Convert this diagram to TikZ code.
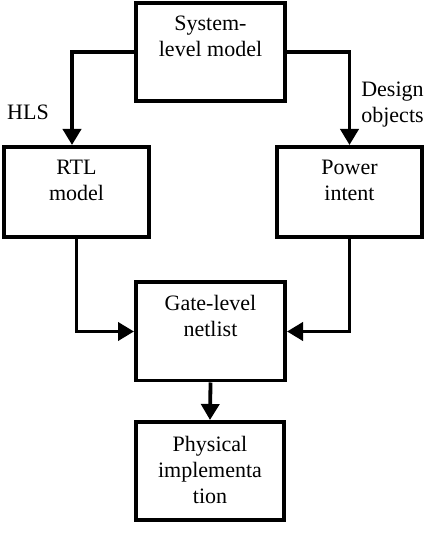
\documentclass[tikz,border=0pt]{standalone}
\usepackage{fontspec}
\setmainfont{Liberation Serif}
\newfontfamily\timesfont{Liberation Serif}
\usepackage{tikz}
\usetikzlibrary{positioning,arrows.meta}

\begin{document}
\begin{tikzpicture}[x=1pt, y=1pt,
    block/.style={rectangle, draw=black, line width=3.8pt, inner sep=0pt, minimum width=149.2pt, minimum height=98.2pt},
    smallblock/.style={block, minimum width=145.2pt, minimum height=90.2pt},
    txt/.style={align=center, inner sep=0pt, anchor=north, font=\timesfont\fontsize{22}{26}\selectfont},
    arr/.style={-{Triangle[length=16pt,width=18pt]}, line width=3.8pt}]

    \useasboundingbox (0,0) rectangle (442,556);

    % Define boxes
    \node[block] (Sys) at (210.5,504) {};
    \node[smallblock] (RTL) at (76.5,364) {};
    \node[smallblock] (Power) at (349.5,364) {};
    \node[block] (Gate) at (210.5,224.5) {};
    \node[block, minimum width=148.2pt] (Phys) at (210,85) {};

    % Texts in the boxes
    \node[txt, below=15pt of Sys.north] (SysText) {System-\\level model};
    \node[txt, below=15pt of RTL.north] (RTLText) {RTL\\model};
    \node[txt, below=15pt of Power.north] (PowerText) {Power\\intent};
    \node[txt, below=15pt of Gate.north] (GateText) {Gate-level\\netlist};
    \node[txt, below=16pt of Phys.north] (PhysText) {Physical\\implementa\\tion};

    % Labels of the flow
    \node[txt, anchor=center] (HLS) at (28,444) {HLS};
    \node[txt, anchor=center] (Objects) at (392.5,451) {Design\\objects};

    % Arrows
    \draw[arr] (Sys.west) -| ([xshift=-4.5pt]RTL.north);
    \draw[arr] (Sys.east) -| (Power.north);
    \draw[arr] (RTL.south) |- (Gate.west);
    \draw[arr] (Power.south) |- (Gate.east);
    \draw[arr] (Gate.south) -- (Phys.north);
\end{tikzpicture}
\end{document}
